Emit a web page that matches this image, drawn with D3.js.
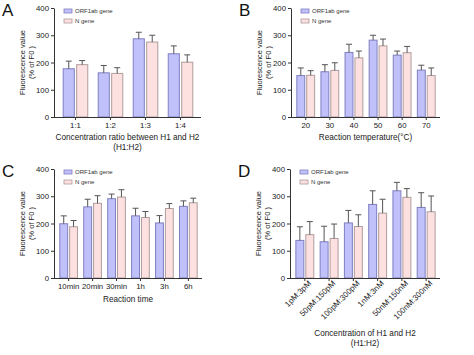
<!DOCTYPE html>
<html><head><meta charset="utf-8">
<script src="https://cdn.jsdelivr.net/npm/d3@7"></script>
<style>
html,body{margin:0;padding:0;background:#fff;}
svg{display:block;font-family:Arial,"Liberation Sans",sans-serif;}
</style></head>
<body>
<svg id="chart" width="474" height="355"></svg>
<script>
// ---------- data ----------
const seriesNames = ["ORF1ab gene", "N gene"];
const yTicks = [0, 100, 200, 300, 400];

const catsA = ["1:1", "1:2", "1:3", "1:4"];
const orfA = [177, 162, 287, 232];
const orfSdA = [28, 27, 24, 29];
const nA = [192, 160, 275, 201];
const nSdA = [15, 21, 25, 27];

const catsB = ["20", "30", "40", "50", "60", "70"];
const orfB = [152, 166, 237, 282, 227, 172];
const orfSdB = [28, 26, 30, 18, 15, 18];
const nB = [153, 171, 217, 261, 236, 152];
const nSdB = [17, 28, 25, 25, 23, 28];

const catsC = ["10min", "20min", "30min", "1h", "3h", "6h"];
const orfC = [199, 261, 291, 228, 202, 263];
const orfSdC = [29, 28, 17, 28, 27, 20];
const nC = [188, 274, 297, 222, 255, 276];
const nSdC = [23, 28, 27, 22, 18, 17];

const catsD = ["1pM:3pM", "50pM:150pM", "100pM:300pM", "1nM:3nM", "50nM:150nM", "100nM:300nM"];
const orfD = [138, 133, 202, 270, 320, 259];
const orfSdD = [50, 57, 46, 50, 31, 54];
const nD = [159, 145, 189, 238, 296, 243];
const nSdD = [48, 53, 43, 51, 32, 58];

// ---------- style ----------
const fills = ["#c0c0fa", "#fde0e0"];
const strokes = ["#7f7fc2", "#b09c9c"];
const axisColor = "#333";
const font = 'Arial,"Liberation Sans",sans-serif';

const svg = d3.select("#chart");

function panel(cfg) {
  const g = svg.append("g");
  const x = d3.scaleBand().domain(cfg.cats).range([cfg.x0 + 1, cfg.x1]).paddingInner(cfg.pi).paddingOuter(cfg.po);
  const xs = d3.scaleBand().domain([0, 1]).range([0, x.bandwidth()]).paddingInner(0.1);
  const y = d3.scaleLinear().domain([0, 400]).range([cfg.y0, cfg.y1]);
  const series = [
    {vals: cfg.orf, sd: cfg.orfSd},
    {vals: cfg.n, sd: cfg.nSd}
  ];

  series.forEach((s, si) => {
    const gs = g.append("g");
    gs.selectAll("rect").data(cfg.cats).join("rect")
      .attr("x", (c) => x(c) + xs(si) + 0.5)
      .attr("y", (c, i) => y(s.vals[i]))
      .attr("width", xs.bandwidth() - 1)
      .attr("height", (c, i) => y(0) - y(s.vals[i]))
      .attr("fill", fills[si])
      .attr("stroke", strokes[si])
      .attr("stroke-width", 1);
    cfg.cats.forEach((c, i) => {
      const cx = x(c) + xs(si) + xs.bandwidth() / 2;
      const top = y(s.vals[i] + s.sd[i]);
      gs.append("line").attr("x1", cx).attr("x2", cx)
        .attr("y1", y(s.vals[i])).attr("y2", top)
        .attr("stroke", "#555").attr("stroke-width", 1);
      gs.append("line").attr("x1", cx - 3).attr("x2", cx + 3)
        .attr("y1", top).attr("y2", top)
        .attr("stroke", "#555").attr("stroke-width", 1);
    });
  });

  const ya = g.append("g").attr("transform", `translate(${cfg.x0},0)`)
    .call(d3.axisLeft(y).tickValues(yTicks).tickSize(3).tickPadding(2).tickSizeOuter(0));
  ya.select(".domain").attr("stroke", axisColor);
  ya.selectAll(".tick line").attr("stroke", axisColor);
  ya.selectAll(".tick text").attr("font-size", 7.8).attr("font-family", font).attr("fill", "#222");

  const xa = g.append("g").attr("transform", `translate(0,${cfg.y0})`)
    .call(d3.axisBottom(x).tickSize(3).tickPadding(2).tickSizeOuter(0));
  xa.select(".domain").attr("stroke", axisColor).attr("d", `M${cfg.x0},0.5H${cfg.x1}`);
  xa.selectAll(".tick line").attr("stroke", axisColor);
  xa.selectAll(".tick text").attr("font-size", cfg.rotate ? 8 : 7.8).attr("font-family", font).attr("fill", "#222");
  if (cfg.rotate) {
    xa.selectAll(".tick text")
      .attr("text-anchor", "end")
      .attr("dy", "0")
      .attr("transform", "translate(4,3) rotate(-45)")
      .attr("y", 4).attr("x", 0);
  }

  cfg.xTitle.forEach((t, i) => {
    g.append("text").attr("x", (cfg.x0 + cfg.x1) / 2).attr("y", cfg.xTitleY + i * 9.5)
      .attr("text-anchor", "middle").attr("font-size", 8.2).attr("font-family", font).attr("fill", "#222")
      .text(t);
  });

  const ym = (cfg.y0 + cfg.y1) / 2;
  [["Fluorescence value", 25], ["(% of F0 )", 34]].forEach(([t, dx]) => {
    g.append("text").attr("transform", `translate(${cfg.x0 - 54 + dx},${ym}) rotate(-90)`)
      .attr("text-anchor", "middle").attr("font-size", 7.5).attr("font-family", font).attr("fill", "#222")
      .text(t);
  });

  g.append("text").attr("x", cfg.x0 - 52).attr("y", cfg.y1 + 8)
    .attr("font-size", 17).attr("font-family", font).attr("fill", "#111").text(cfg.letter);

  seriesNames.forEach((nm, i) => {
    const ly = cfg.y1 + 3 + i * 10;
    g.append("rect").attr("x", cfg.x0 + 10).attr("y", ly - 2).attr("width", 8).attr("height", 4)
      .attr("fill", fills[i]).attr("stroke", strokes[i]).attr("stroke-width", 0.8);
    g.append("text").attr("x", cfg.x0 + 21).attr("y", ly).attr("dy", "0.35em")
      .attr("font-size", 6).attr("font-family", font).attr("fill", "#333").text(nm);
  });
}

panel({letter: "A", cats: catsA, orf: orfA, orfSd: orfSdA, n: nA, nSd: nSdA,
  x0: 54, x1: 201, y0: 117, y1: 8, pi: 0.27, po: 0.22,
  xTitle: ["Concentration ratio between H1 and H2", "(H1:H2)"], xTitleY: 140});
panel({letter: "B", cats: catsB, orf: orfB, orfSd: orfSdB, n: nB, nSd: nSdB,
  x0: 291, x1: 440, y0: 117, y1: 8, pi: 0.22, po: 0.18,
  xTitle: ["Reaction temperature(°C)"], xTitleY: 140});
panel({letter: "C", cats: catsC, orf: orfC, orfSd: orfSdC, n: nC, nSd: nSdC,
  x0: 54, x1: 202, y0: 278, y1: 169, pi: 0.22, po: 0.18,
  xTitle: ["Reaction time"], xTitleY: 302});
panel({letter: "D", cats: catsD, orf: orfD, orfSd: orfSdD, n: nD, nSd: nSdD,
  x0: 290, x1: 440, y0: 278, y1: 169, pi: 0.22, po: 0.18, rotate: true,
  xTitle: ["Concentration of H1 and H2", "(H1:H2)"], xTitleY: 336});
</script>
</body></html>
